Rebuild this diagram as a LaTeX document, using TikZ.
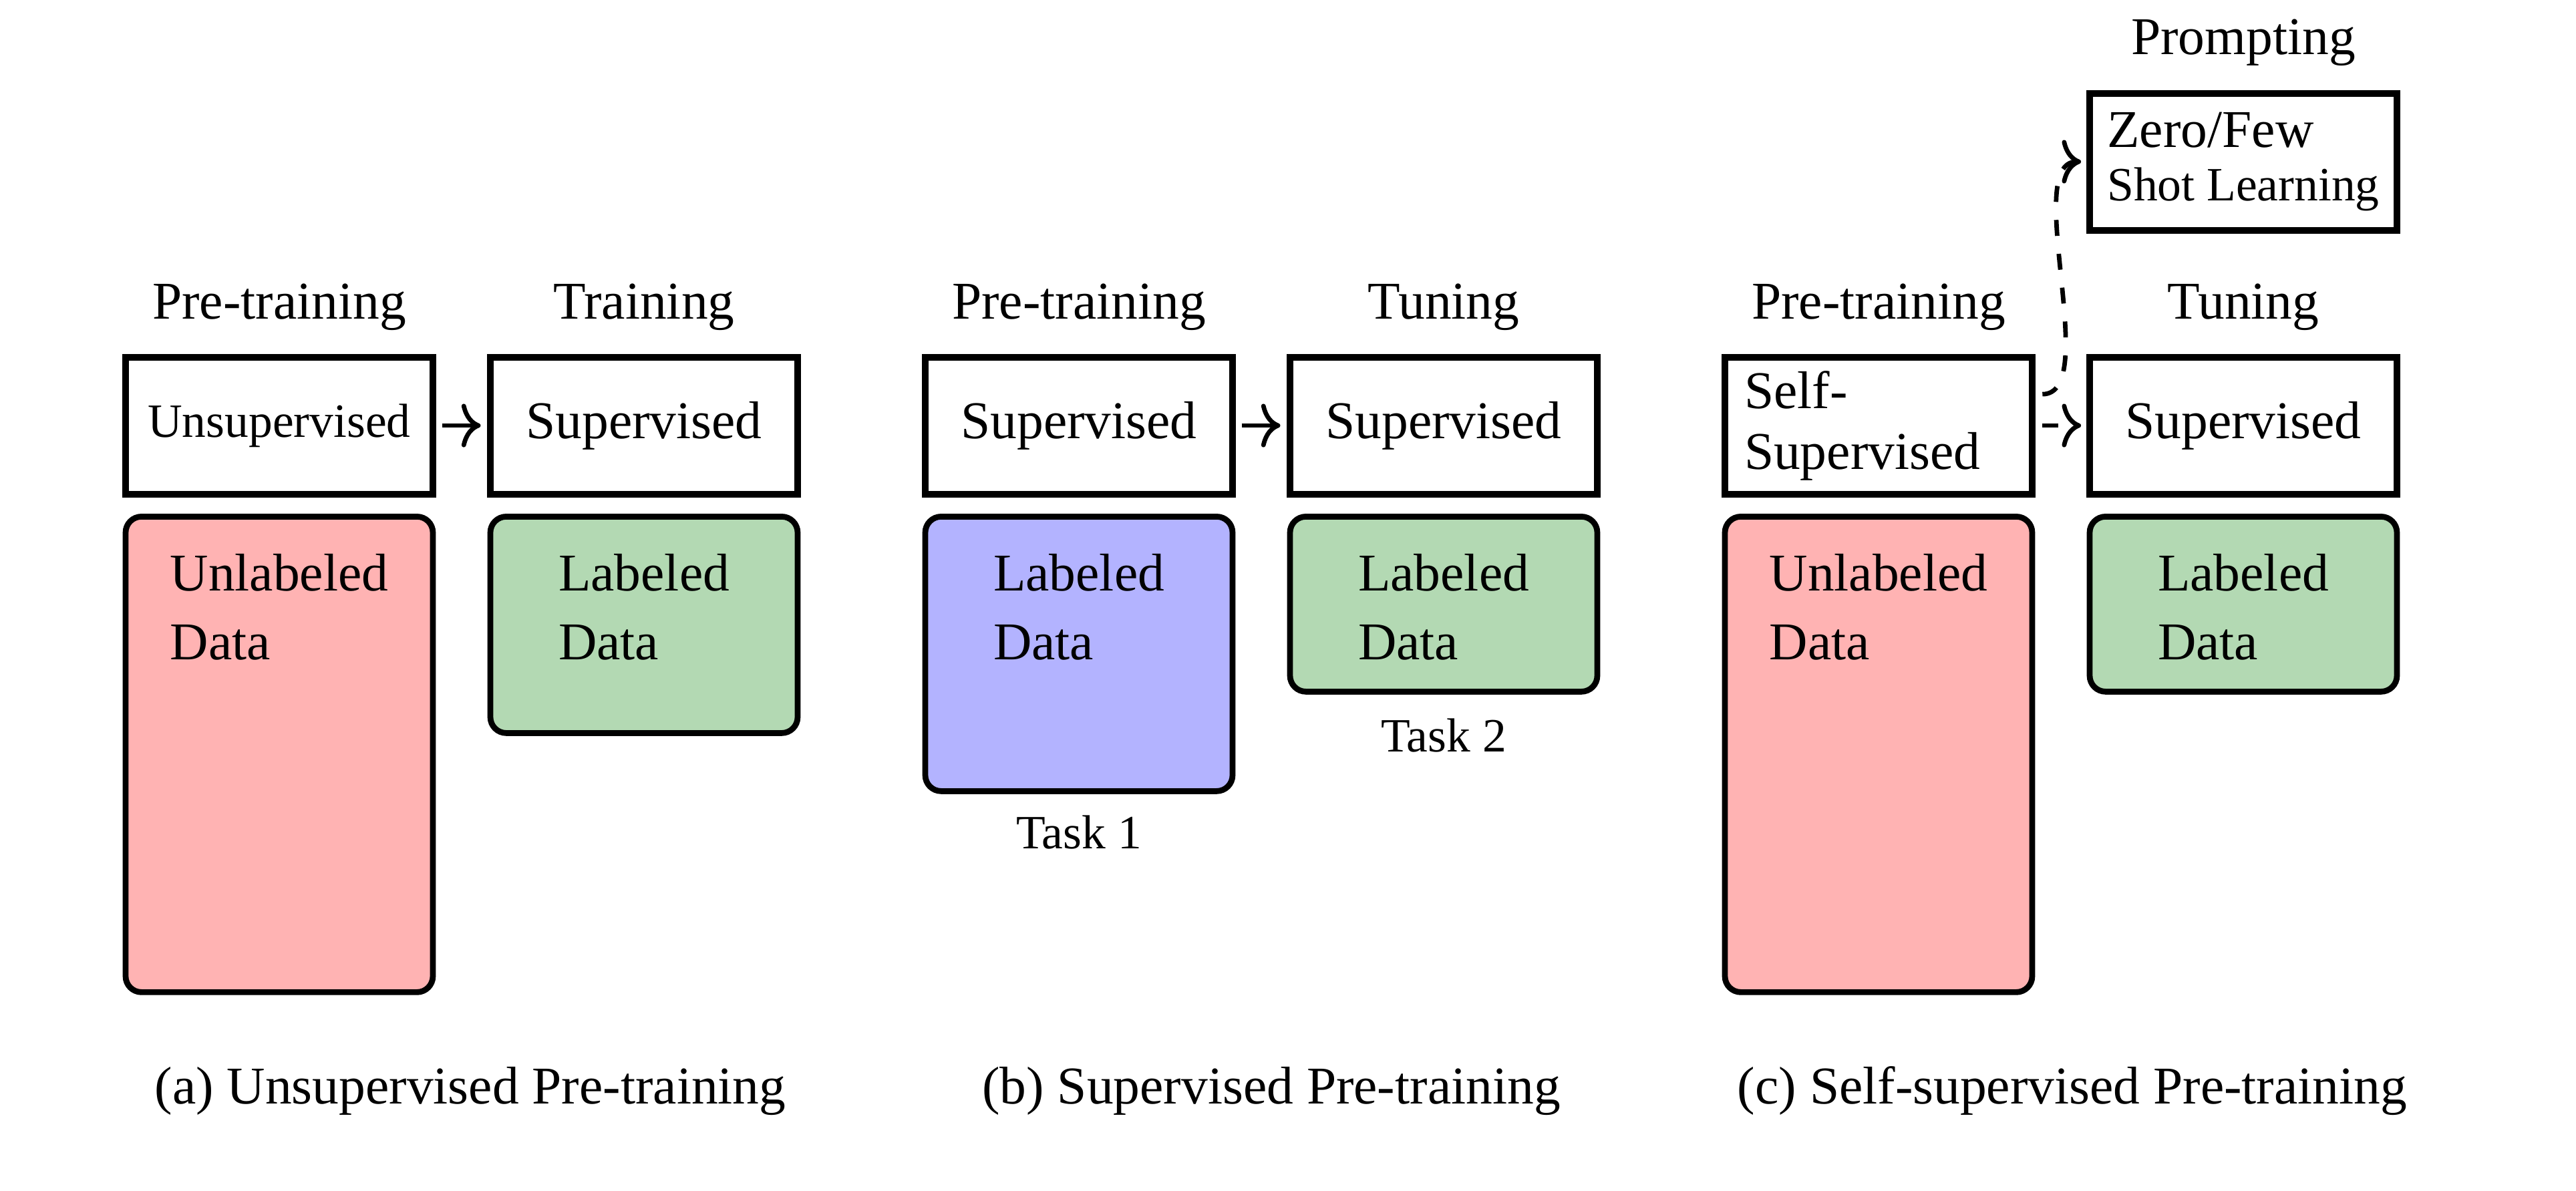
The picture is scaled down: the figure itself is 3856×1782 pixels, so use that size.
\documentclass[tikz,border=0pt]{standalone}
\usepackage{fontspec}
\setmainfont{Liberation Serif}
\usetikzlibrary{arrows.meta}
\definecolor{pinkfill}{RGB}{255,179,179}
\definecolor{greenfill}{RGB}{179,217,179}
\definecolor{bluefill}{RGB}{179,179,255}
\begin{document}
\begin{tikzpicture}[x=0.12579pt,y=-0.12579pt,
  stage/.style={draw, line width=1.26pt, minimum width=57.86pt, minimum height=25.79pt, inner sep=0pt, fill=white, font=\fontsize{10}{12}\selectfont},
  databox/.style={draw, line width=1.1pt, rounded corners=3pt, minimum width=57.86pt, inner sep=0pt, anchor=north},
  datatext/.style={anchor=north, inner sep=0pt, align=left, font=\fontsize{10}{12.96}\selectfont},
  head/.style={anchor=base, inner sep=0pt, font=\fontsize{10}{12}\selectfont},
  tasklbl/.style={anchor=base, inner sep=0pt, font=\fontsize{9}{11}\selectfont},
  arr/.style={line width=0.85pt, -{Computer Modern Rightarrow[length=3.6pt,width=8.2pt]}},
  dasharr/.style={arr, dash pattern=on 3pt off 3.4pt},
]
\useasboundingbox (0,0) rectangle (3856,1782);

% ---------- panel (a)
\node[head] (ha1) at (418,477) {Pre-training};
\node[head] (ha2) at (964,477) {Training};
\node[stage] (a1) at (418,637) {\fontsize{9}{11}\selectfont Unsupervised};
\node[stage] (a2) at (964,637) {Supervised};
\node[databox, fill=pinkfill, minimum height=89.56pt] (ad1) at (418,769) {};
\node[databox, fill=greenfill, minimum height=40.76pt] (ad2) at (964,769) {};
\node[datatext] (at1) at (418,828) {Unlabeled\\Data};
\node[datatext] (at2) at (964,828) {Labeled\\Data};
\draw[arr, shorten <=1.1pt, shorten >=1.2pt] (a1) -- (a2);
\node[head] (capa) at (704,1652) {(a) Unsupervised Pre-training};

% ---------- panel (b)
\node[head] (hb1) at (1615,477) {Pre-training};
\node[head] (hb2) at (2161,477) {Tuning};
\node[stage] (b1) at (1615,637) {Supervised};
\node[stage] (b2) at (2161,637) {Supervised};
\node[databox, fill=bluefill, minimum height=51.70pt] (bd1) at (1615,769) {};
\node[databox, fill=greenfill, minimum height=32.96pt] (bd2) at (2161,769) {};
\node[datatext] (bt1) at (1615,828) {Labeled\\Data};
\node[datatext] (bt2) at (2161,828) {Labeled\\Data};
\node[tasklbl] (task1) at (1615,1270) {Task 1};
\node[tasklbl] (task2) at (2161,1125) {Task 2};
\draw[arr, shorten <=1.1pt, shorten >=1.2pt] (b1) -- (b2);
\node[head] (capb) at (1903,1652) {(b) Supervised Pre-training};

% ---------- panel (c)
\node[head] (hc0) at (3358,81) {Prompting};
\node[head] (hc1) at (2812,477) {Pre-training};
\node[head] (hc2) at (3358,477) {Tuning};
\node[stage, align=left, font=\fontsize{10}{10}\selectfont] (c3) at (3358,242) {Zero/Few\\{\fontsize{9}{10}\selectfont Shot Learning}};
\node[stage, text width=50.57pt, align=left, font=\fontsize{10}{11.45}\selectfont] (c1) at (2812,637) {Self-\\Supervised};
\node[stage] (c2) at (3358,637) {Supervised};
\node[databox, fill=pinkfill, minimum height=89.56pt] (cd1) at (2812,769) {};
\node[databox, fill=greenfill, minimum height=32.96pt] (cd2) at (3358,769) {};
\node[datatext] (ct1) at (2812,828) {Unlabeled\\Data};
\node[datatext] (ct2) at (3358,828) {Labeled\\Data};
\draw[dasharr] ([xshift=1.3pt]c1.east) -- ([xshift=-1pt]c2.west);
\draw[dasharr] ([xshift=1.3pt,yshift=5.9pt]c1.east) to[out=0,in=180,looseness=0.65] ([xshift=-1pt]c3.west);
\node[head] (capc) at (3102,1652) {(c) Self-supervised Pre-training};
\end{tikzpicture}
\end{document}
